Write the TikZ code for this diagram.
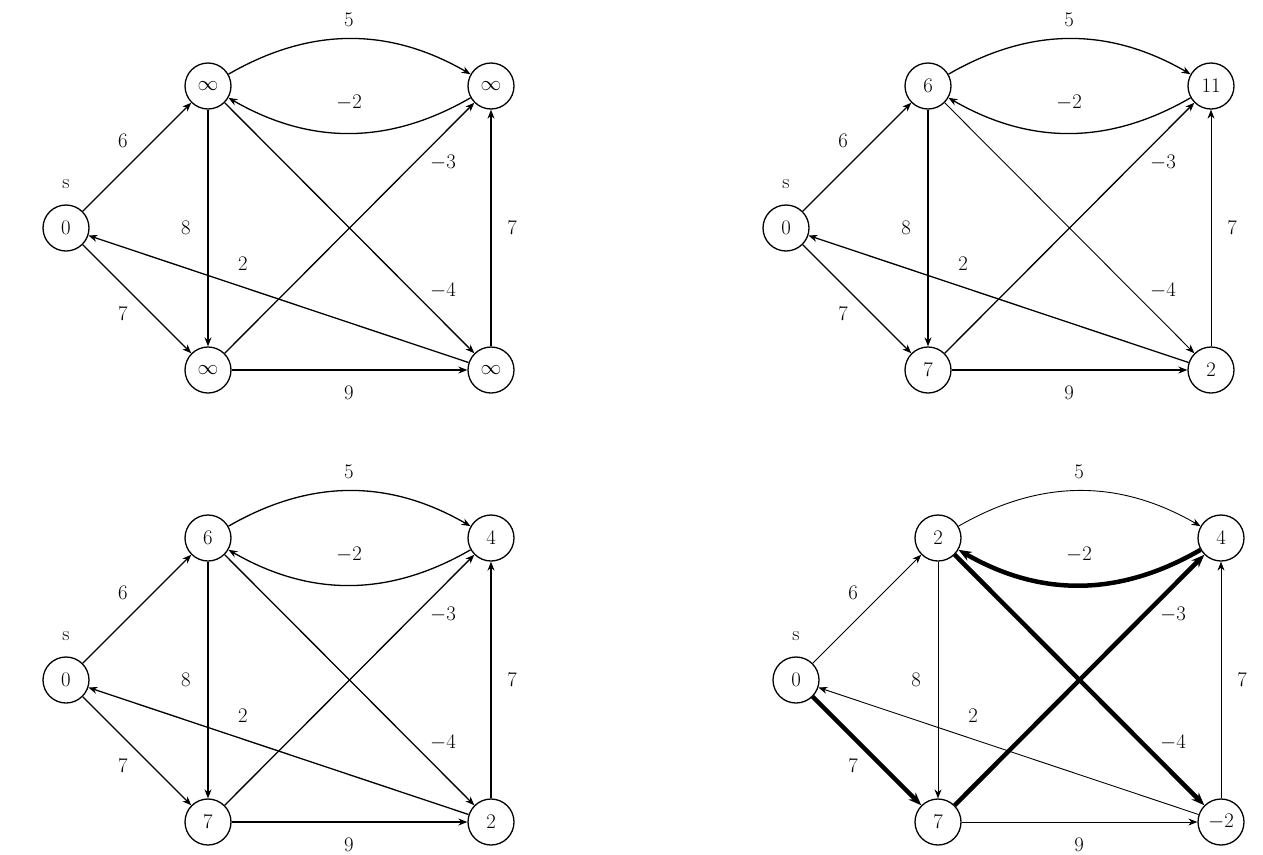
\documentclass[tikz,border=0pt]{standalone}
\usetikzlibrary{arrows.meta}
\begin{document}
\begin{tikzpicture}[x=1pt,y=-1pt,
  vtx/.style={draw,circle,line width=1.3pt,minimum size=46pt,inner sep=0pt,font=\fontsize{20}{24}\selectfont},
  lbl/.style={font=\fontsize{20}{24}\selectfont},
  ed/.style={-{Stealth[length=9pt,width=7pt]},line width=1.3pt},
  thin/.style={-{Stealth[length=9pt,width=7pt]},line width=0.9pt},
  fat/.style={-{Stealth[length=13pt,width=10pt]},line width=4.5pt},
  eA/.style=ed,eB/.style=ed,eC/.style=ed,eD/.style=ed,eE/.style=ed,
  eF/.style=ed,eG/.style=ed,eH/.style=ed,eI/.style=ed,eJ/.style=ed]
\useasboundingbox (0,0) rectangle (1263,854);
\newcommand\bfg[6]{%
  \node[vtx] (#1s) at (66,228) {$#2$};
  \node[vtx] (#1t) at (208,86) {$#3$};
  \node[vtx] (#1x) at (491,86) {$#4$};
  \node[vtx] (#1y) at (208,370) {$#5$};
  \node[vtx] (#1z) at (491,370) {$#6$};
  \node[lbl] (#1ls) at (66,184) {s};
  \draw[eA] (#1s) -- (#1t);
  \draw[eB] (#1s) -- (#1y);
  \draw[eC] (#1t) to[bend left=30] (#1x);
  \draw[eD] (#1x) to[bend left=30] (#1t);
  \draw[eE] (#1t) -- (#1y);
  \draw[eF] (#1t) -- (#1z);
  \draw[eG] (#1y) -- (#1x);
  \draw[eH] (#1y) -- (#1z);
  \draw[eI] (#1z) -- (#1x);
  \draw[eJ] (#1z) -- (#1s);
  \node[lbl] (#1l5) at (349,20) {$5$};
  \node[lbl] (#1lm2) at (349,103) {$-2$};
  \node[lbl] (#1l6) at (123,141) {$6$};
  \node[lbl] (#1l7a) at (123,314) {$7$};
  \node[lbl] (#1l8) at (186,228) {$8$};
  \node[lbl] (#1lm4) at (443,291) {$-4$};
  \node[lbl] (#1lm3) at (443,163) {$-3$};
  \node[lbl] (#1l7b) at (512,228) {$7$};
  \node[lbl] (#1l9) at (349,393) {$9$};
  \node[lbl] (#1l2) at (243,264) {$2$};
}
\begin{scope}
\bfg{a}{0}{\infty}{\infty}{\infty}{\infty}
\end{scope}
\begin{scope}[shift={(720,0)},eI/.style=thin,eF/.style=thin]
\bfg{b}{0}{6}{11}{7}{2}
\end{scope}
\begin{scope}[shift={(0,452)}]
\bfg{c}{0}{6}{4}{7}{2}
\end{scope}
\begin{scope}[shift={(730,452)},eA/.style=thin,eC/.style=thin,eE/.style=thin,eH/.style=thin,eI/.style=thin,eJ/.style=thin,
  eB/.style=fat,eD/.style=fat,eF/.style=fat,eG/.style=fat]
\bfg{d}{0}{2}{4}{7}{-2}
\end{scope}
\end{tikzpicture}
\end{document}
